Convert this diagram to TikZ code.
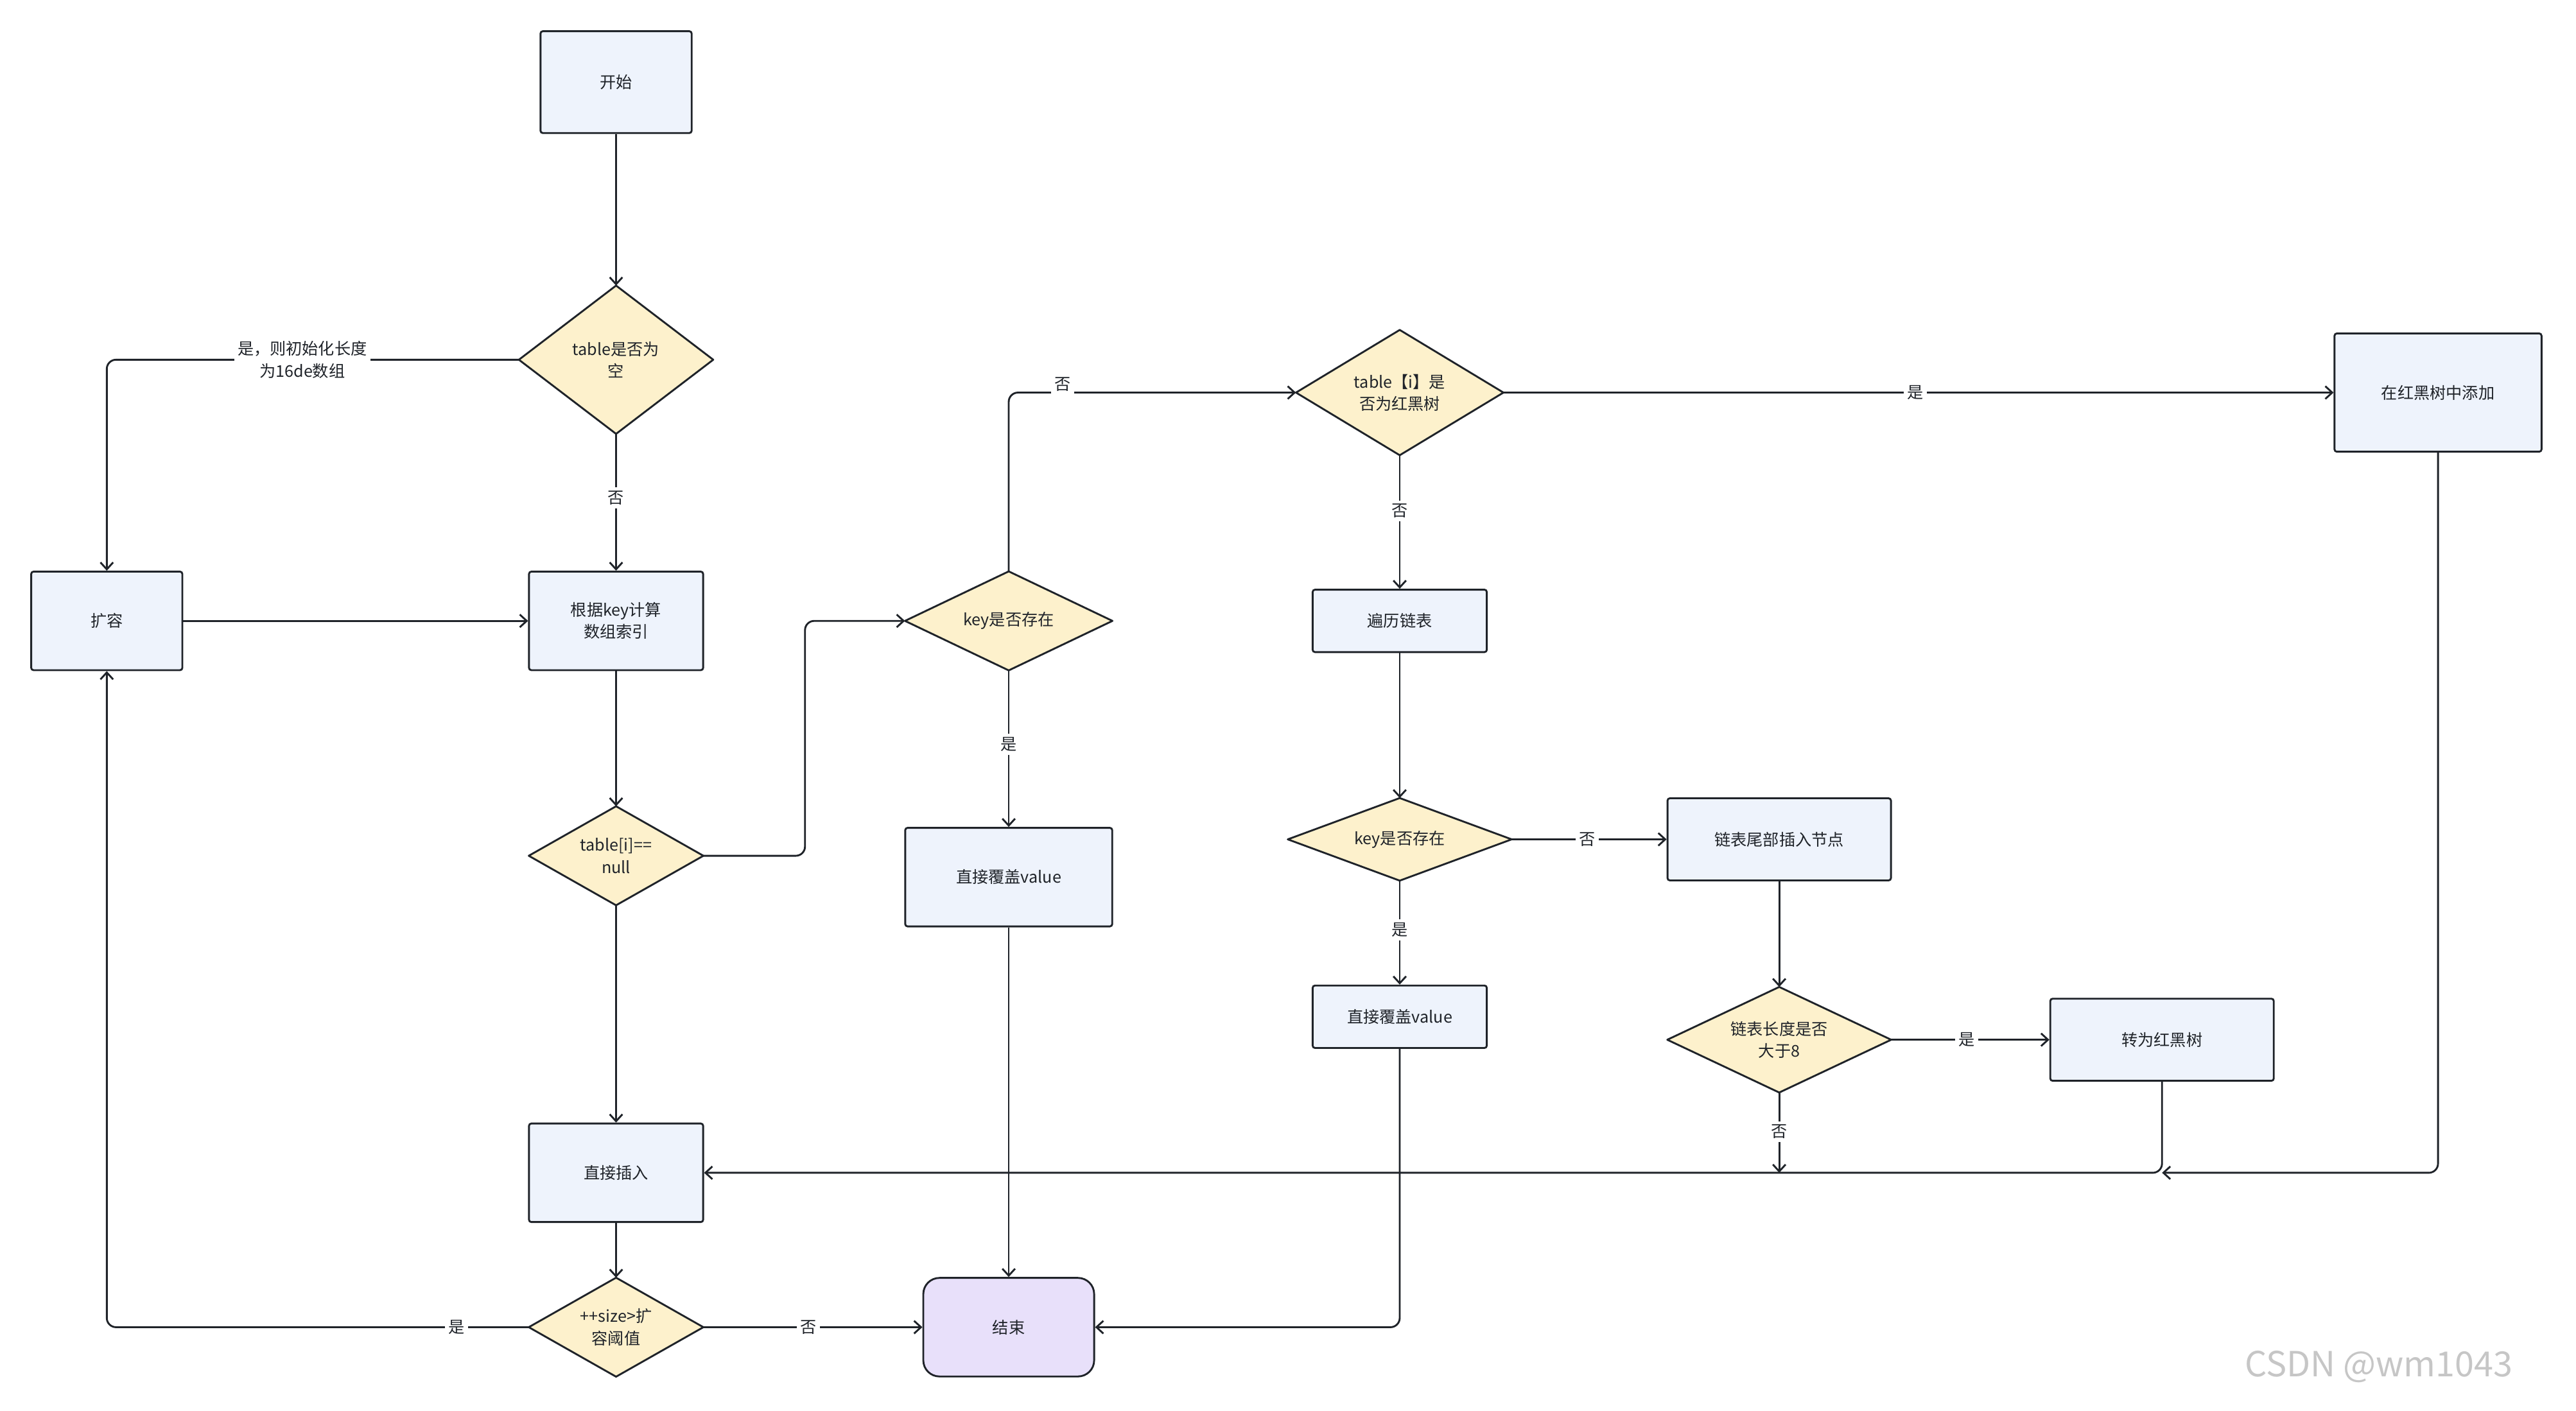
\documentclass[tikz,border=0pt]{standalone}
\usepackage{fontspec}
\setmainfont{Noto Sans CJK SC}
\usetikzlibrary{arrows.meta,backgrounds}
\definecolor{bfill}{HTML}{EEF3FC}
\definecolor{dfill}{HTML}{FDF1CC}
\definecolor{efill}{HTML}{E8E0FA}
\definecolor{ln}{HTML}{1F2329}
\begin{document}
\begin{tikzpicture}[x=0.05cm,y=-0.05cm,
  every node/.style={font=\fontsize{14}{19}\selectfont, text=ln, align=center},
  box/.style 2 args={draw=ln, line width=1.6pt, fill=bfill, rounded corners=2pt, minimum width=#1*0.05cm, minimum height=#2*0.05cm, inner sep=0pt},
  dbox/.style 2 args={minimum width=#1*0.05cm, minimum height=#2*0.05cm, inner sep=0pt},
  dia/.style={draw=ln, line width=1.6pt, fill=dfill, line join=round},
  endn/.style 2 args={draw=ln, line width=1.6pt, fill=efill, rounded corners=14pt, minimum width=#1*0.05cm, minimum height=#2*0.05cm},
  arr/.style={draw=ln, line width=1.6pt, -{Straight Barb[length=6pt,width=11pt]}, rounded corners=8pt},
  lbl/.style={fill=white, inner sep=3pt}]
\useasboundingbox (0,0) rectangle (1568,859);
\node[box={92}{62}] (start) at (375,50) {开始};
\node[dbox={118}{90}] (d1) at (375,219) {table是否为\\空};
\node[box={92}{60}] (exp) at (65,378) {扩容};
\node[box={106}{60}] (calc) at (375,378) {根据key计算\\数组索引};
\node[dbox={106}{60}] (d2) at (375,521) {table[i]==\\null};
\node[box={106}{60}] (ins) at (375,714) {直接插入};
\node[dbox={106}{60}] (d3) at (375,808) {++size>扩\\容阈值};
\node[endn={104}{60}] (end) at (614,808) {结束};
\node[dbox={126}{60}] (d4) at (614,378) {key是否存在};
\node[box={126}{60}] (cov1) at (614,534) {直接覆盖value};
\node[dbox={126}{76}] (d5) at (852,239) {table【i】是\\否为红黑树};
\node[box={126}{72}] (rb) at (1484,239) {在红黑树中添加};
\node[box={106}{38}] (trav) at (852,378) {遍历链表};
\node[dbox={136}{50}] (d6) at (852,511) {key是否存在};
\node[box={136}{50}] (tail) at (1083,511) {链表尾部插入节点};
\node[box={106}{38}] (cov2) at (852,619) {直接覆盖value};
\node[dbox={136}{64}] (d7) at (1083,633) {链表长度是否\\大于8};
\node[box={136}{50}] (tree) at (1316,633) {转为红黑树};
\node[text=gray!45, font=\fontsize{30}{30}\selectfont] (wm) at (1448,832) {CSDN @wm1043};
\begin{scope}[on background layer]
\foreach \d in {d1,d2,d3,d4,d5,d6,d7}
  \draw[dia] (\d.north)--(\d.east)--(\d.south)--(\d.west)--cycle;
\end{scope}
\coordinate (j1) at (1083,714);
\coordinate (j2) at (1316,714);
\draw[arr] (start) -- (d1);
\draw[arr] (d1.west) -| (exp.north);
\draw[arr] (d1.south) -- (calc.north);
\draw[arr] (exp) -- (calc);
\draw[arr] (calc) -- (d2.north);
\draw[arr] (d2.east) -- (490,521) -- (490,378) -- (d4.west);
\draw[arr] (d2.south) -- (ins.north);
\draw[arr] (ins) -- (d3.north);
\draw[arr] (d3.east) -- (end.west);
\draw[arr] (d3.west) -| (exp.south);
\draw[arr] (d4.north) |- (d5.west);
\draw[arr] (d4.south) -- (cov1.north);
\draw[arr] (cov1) -- (end.north);
\draw[arr] (d5.east) -- (rb.west);
\draw[arr] (d5.south) -- (trav.north);
\draw[arr] (trav) -- (d6.north);
\draw[arr] (d6.east) -- (tail.west);
\draw[arr] (d6.south) -- (cov2.north);
\draw[arr] (cov2.south) |- (end.east);
\draw[arr] (tail) -- (d7.north);
\draw[arr] (d7.east) -- (tree.west);
\draw[arr] (d7.south) -- (j1);
\draw[arr] (tree.south) |- (ins.east);
\draw[arr] (rb.south) |- (j2);
\node[lbl] (l1) at (184,219) {是，则初始化长度\\为16de数组};
\node[lbl] (l2) at (375,303) {否};
\node[lbl] (l3) at (492,808) {否};
\node[lbl] (l4) at (278,808) {是};
\node[lbl] (l5) at (647,234) {否};
\node[lbl] (l6) at (614,453) {是};
\node[lbl] (l7) at (1166,239) {是};
\node[lbl] (l8) at (852,311) {否};
\node[lbl] (l9) at (966,511) {否};
\node[lbl] (l10) at (852,566) {是};
\node[lbl] (l11) at (1197,633) {是};
\node[lbl] (l12) at (1083,689) {否};
\end{tikzpicture}
\end{document}
